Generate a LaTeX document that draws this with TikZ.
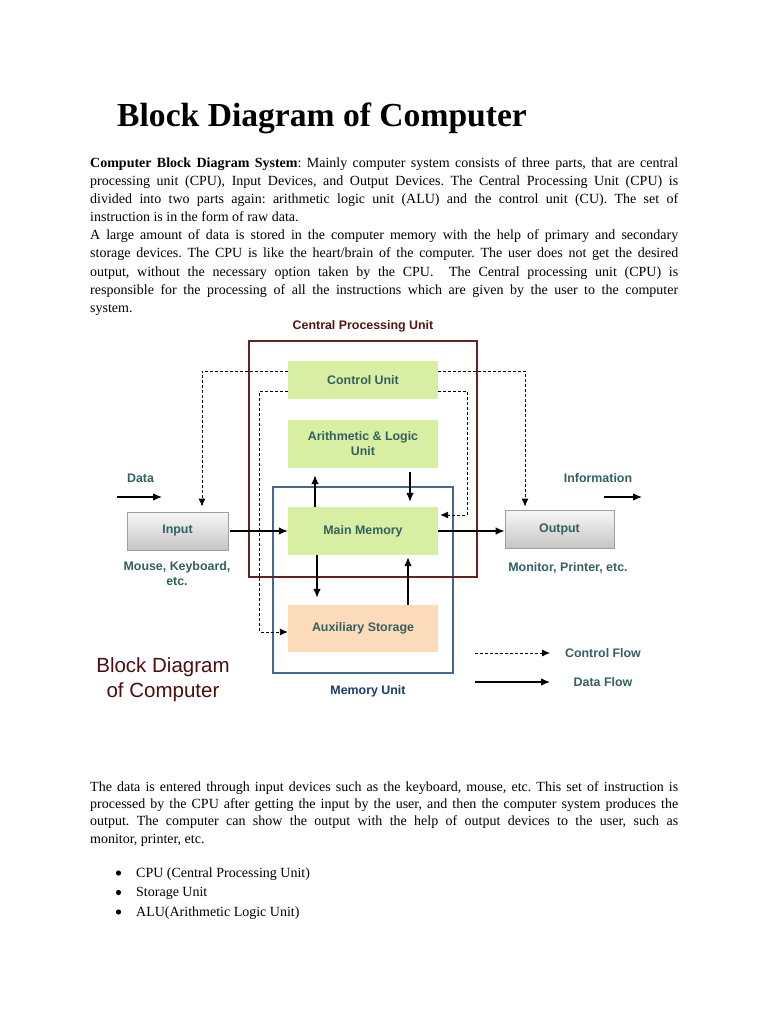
\documentclass[tikz,border=0pt]{standalone}
\usepackage{fontspec}
\setmainfont{Liberation Serif}
\newfontfamily\diagfont{Liberation Sans}
\usetikzlibrary{arrows.meta,shadings}
\definecolor{cpured}{RGB}{100,35,35}
\definecolor{memblue}{RGB}{65,105,150}
\definecolor{boxgreen}{RGB}{216,238,162}
\definecolor{boxpeach}{RGB}{252,219,187}
\definecolor{tealtxt}{RGB}{52,96,96}
\definecolor{cpulbl}{RGB}{85,20,20}
\definecolor{memlbl}{RGB}{28,58,110}
\definecolor{bdred}{RGB}{75,15,15}
\newcommand\bodyfs{\fontsize{14}{18}\selectfont\frenchspacing}
\newcommand\diagfs{\diagfont\bfseries\fontsize{12.4}{15}\selectfont}
\newcommand\jline[1]{\hbox to 588pt{\spaceskip=0.25em plus 0.6em minus 0.12em\relax #1}}
\begin{document}
\begin{tikzpicture}[x=1pt,y=-1pt,
  bodyline/.style={anchor=base west, inner sep=0pt, font=\bodyfs},
  ublock/.style={rectangle, minimum width=150pt, inner sep=0pt, text=tealtxt, font=\diagfs, align=center},
  greenbox/.style={ublock, fill=boxgreen},
  peachbox/.style={ublock, fill=boxpeach},
  iobox/.style={ublock, draw=gray!75, line width=0.8pt, top color=gray!6, bottom color=gray!45, minimum height=38pt},
  lbl/.style={text=tealtxt, font=\diagfs, inner sep=0pt, align=center},
  ctrl/.style={draw=black, line width=0.9pt, dash pattern=on 3pt off 2pt, -{Latex[length=8pt,width=7pt]}},
  dataflow/.style={draw=black, line width=1.2pt, -{Latex[length=9pt,width=7.5pt]}},
  unitbox/.style={draw, rectangle, inner sep=0pt}
]
\useasboundingbox (0,0) rectangle (768,1024);
\fill[white] (0,0) rectangle (768,1024);

% Title
\node[anchor=base west, inner sep=0pt, font=\bfseries\fontsize{33.6}{40}\selectfont] (title) at (117,127) {Block Diagram of Computer};

% First paragraph
\node[bodyline] (p1) at (90,168) {\jline{\textbf{Computer Block Diagram System}: Mainly computer system consists of three parts, that are central}};
\node[bodyline] (p2) at (90,186) {\jline{processing unit (CPU), Input Devices, and Output Devices. The Central Processing Unit (CPU) is}};
\node[bodyline] (p3) at (90,204) {\jline{divided into two parts again: arithmetic logic unit (ALU) and the control unit (CU). The set of}};
\node[bodyline] (p4) at (90,222) {instruction is in the form of raw data.};
\node[bodyline] (p5) at (90,240) {\jline{A large amount of data is stored in the computer memory with the help of primary and secondary}};
\node[bodyline] (p6) at (90,258) {\jline{storage devices. The CPU is like the heart/brain of the computer. The user does not get the desired}};
\node[bodyline] (p7) at (90,276) {\jline{output, without the necessary option taken by the CPU. \ The Central processing unit (CPU) is}};
\node[bodyline] (p8) at (90,294) {\jline{responsible for the processing of all the instructions which are given by the user to the computer}};
\node[bodyline] (p9) at (90,312) {system.};

% Second paragraph
\node[bodyline] (q1) at (90,791) {\jline{The data is entered through input devices such as the keyboard, mouse, etc. This set of instruction is}};
\node[bodyline] (q2) at (90,808.3) {\jline{processed by the CPU after getting the input by the user, and then the computer system produces the}};
\node[bodyline] (q3) at (90,825.6) {\jline{output. The computer can show the output with the help of output devices to the user, such as}};
\node[bodyline] (q4) at (90,843) {monitor, printer, etc.};

% Bullets
\fill (118.5,873) circle (2.6pt);
\fill (118.5,892.5) circle (2.6pt);
\fill (118.5,912) circle (2.6pt);
\node[bodyline] (b1) at (136,877) {CPU (Central Processing Unit)};
\node[bodyline] (b2) at (136,896.5) {Storage Unit};
\node[bodyline] (b3) at (136,916) {ALU(Arithmetic Logic Unit)};

% Unit frames
\node[unitbox, draw=memblue, line width=2pt, minimum width=180pt, minimum height=186pt] (memunit) at (363,580) {};
\node[unitbox, draw=cpured, line width=2.4pt, minimum width=228pt, minimum height=236pt] (cpuunit) at (363,459) {};
\node[inner sep=0pt, text=cpulbl, font=\diagfs] (cpulabel) at (363,326) {Central Processing Unit};
\node[inner sep=0pt, text=memlbl, font=\diagfs] (memlabel) at (368,691) {Memory Unit};

% Blocks
\node[greenbox, minimum height=38pt] (cu) at (363,380) {Control Unit};
\node[greenbox, minimum height=48pt] (alu) at (363,444) {Arithmetic \& Logic\\Unit};
\node[greenbox, minimum height=48pt] (mm) at (363,531) {Main Memory};
\node[peachbox, minimum height=47pt] (aux) at (363,628.5) {Auxiliary Storage};
\node[iobox, minimum width=101pt] (input) at (177.5,531) {Input};
\node[iobox, minimum width=109pt] (output) at (559.5,529) {Output};

% Side labels
\node[lbl] (datalbl) at (140.5,478) {Data};
\node[lbl] (infolbl) at (598,478) {Information};
\node[lbl] (mouse) at (177,573.5) {Mouse, Keyboard,\\etc.};
\node[lbl] (monitor) at (568,568) {Monitor, Printer, etc.};
\node[inner sep=0pt, align=center, text=bdred, font=\diagfont\fontsize{20.5}{25}\selectfont] (bdlabel) at (163,679.5) {Block Diagram\\of Computer};

% Free arrows
\coordinate (din1) at (117,497);
\coordinate (din2) at (162,497);
\coordinate (dout1) at (604,497);
\coordinate (dout2) at (642,497);
\draw[dataflow] (din1) -- (din2);
\draw[dataflow] (dout1) -- (dout2);

% Data flow
\draw[dataflow] ([xshift=2pt]input.east) -- (mm.west);
\draw[dataflow] (mm.east) -- (mm.east -| output.west);
\draw[dataflow] ([xshift=-48pt]mm.north) -- ([xshift=-48pt,yshift=-7pt]alu.south);
\draw[dataflow] ([xshift=47pt,yshift=-4pt]alu.south) -- ([xshift=47pt,yshift=5pt]mm.north);
\draw[dataflow] ([xshift=-46pt]mm.south) -- ([xshift=-46pt,yshift=7pt]aux.north);
\draw[dataflow] ([xshift=45pt]aux.north) -- ([xshift=45pt,yshift=-2pt]mm.south);

% Control flow
\draw[ctrl] ([yshift=9pt]cu.west) -| ([xshift=24.5pt,yshift=5pt]input.north);
\draw[ctrl] ([yshift=9pt]cu.east) -| ([xshift=-34.5pt,yshift=3pt]output.north);
\draw[ctrl] ([yshift=-11pt]cu.west) -- ++(-28,0) |- ([yshift=-3.5pt]aux.west);
\draw[ctrl] ([yshift=-11pt]cu.east) -- ++(29,0) |- ([xshift=2pt,yshift=16pt]mm.east);

% Legend
\coordinate (cf1) at (475,653);
\coordinate (cf2) at (550,653);
\coordinate (df1) at (475,682);
\coordinate (df2) at (550,682);
\draw[ctrl] (cf1) -- (cf2);
\draw[dataflow] (df1) -- (df2);
\node[lbl] (cflbl) at (603,653) {Control Flow};
\node[lbl] (dflbl) at (603,682) {Data Flow};
\end{tikzpicture}
\end{document}
